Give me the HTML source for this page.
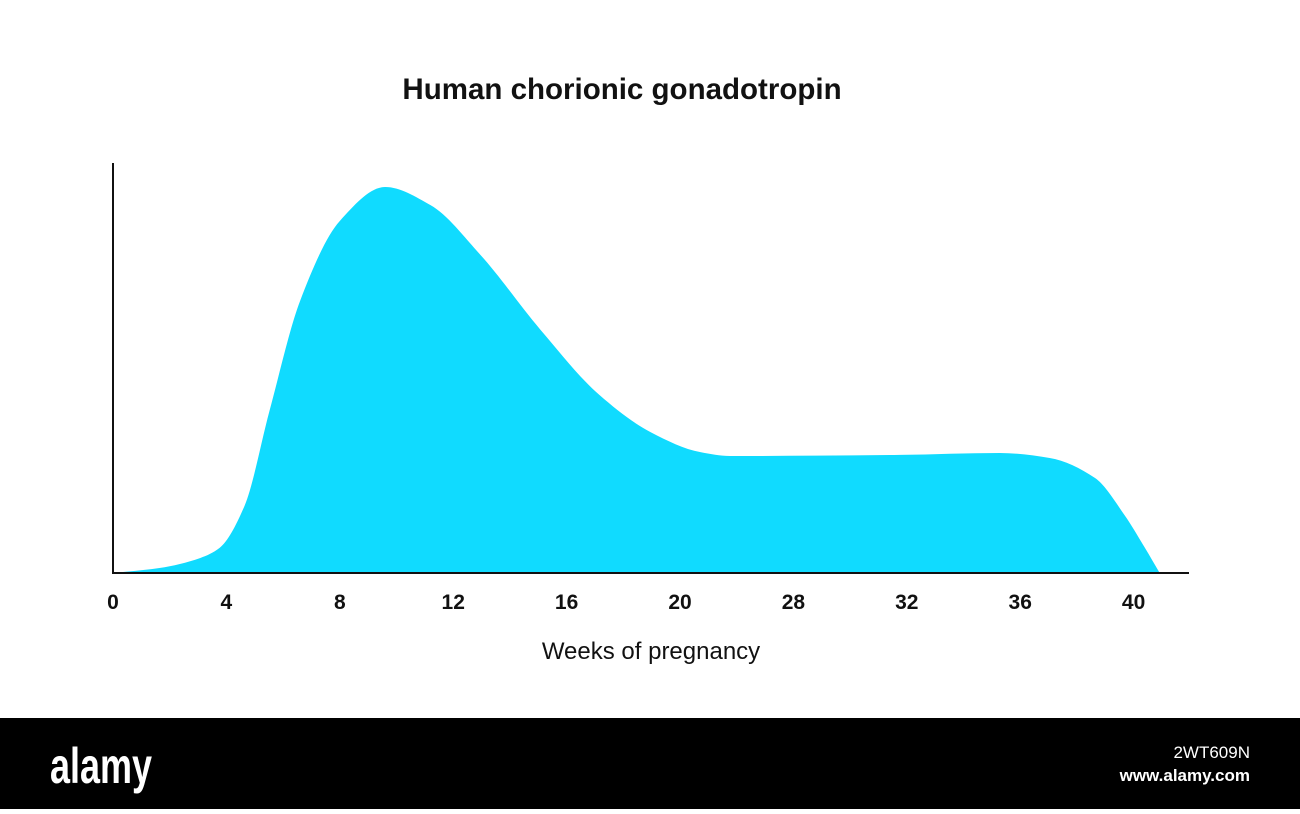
<!DOCTYPE html>
<html><head><meta charset="utf-8"><style>
body{margin:0;width:1300px;height:809px;background:#fff;overflow:hidden;font-family:"Liberation Sans",sans-serif}
</style></head><body>
<svg width="1300" height="809">
<text x="622" y="99" text-anchor="middle" font-size="29.5" font-weight="bold" fill="#111">Human chorionic gonadotropin</text>
<path id="area" fill="#10dbff"/>
<line x1="113" y1="163" x2="113" y2="574" stroke="#111" stroke-width="2"/>
<line x1="112" y1="573" x2="1189" y2="573" stroke="#111" stroke-width="2"/>
<g id="ticks"></g>
<text x="651" y="659" text-anchor="middle" font-size="24" fill="#111">Weeks of pregnancy</text>
<rect x="0" y="718" width="1300" height="91" fill="#000"/>
<text x="50" y="783" font-size="50" font-weight="bold" fill="#fff" textLength="102" lengthAdjust="spacingAndGlyphs">alamy</text>
<text x="1250" y="758" text-anchor="end" font-size="17" fill="#fff">2WT609N</text>
<text x="1250" y="781" text-anchor="end" font-size="17" font-weight="bold" fill="#fff">www.alamy.com</text>
</svg>
<script>
const tickLabels=["0","4","8","12","16","20","28","32","36","40"];
const xPos=[0,0.41,0.77,0.94,1.16,1.38,1.65,2.0,2.4,2.8,3.24,3.77,4.29,4.74,5.18,5.44,6.2,6.94,7.82,8.26,8.66,8.92,9.1,9.23];
const hcgValues=[0,1.3,3.9,6.5,17.4,42,70.5,91.2,100,95.3,82.4,63,46.1,36.5,31.3,30.3,30.4,30.6,31.1,29.8,24.6,15,6.5,0];
const X=i=>113+i*113.4;
const Y=v=>573-v*3.86;
const g=document.getElementById('ticks');
tickLabels.forEach((t,i)=>{
 const el=document.createElementNS('http://www.w3.org/2000/svg','text');
 el.setAttribute('x',X(i));el.setAttribute('y',609);
 el.setAttribute('text-anchor','middle');el.setAttribute('font-size','21');el.setAttribute('font-weight','bold');el.setAttribute('fill','#111');
 
 
 el.textContent=t;g.appendChild(el);
});
// monotone cubic interpolation in pixel space
const px=xPos.map(X), py=hcgValues.map(Y), n=px.length;
const s=[];for(let i=0;i<n-1;i++)s.push((py[i+1]-py[i])/(px[i+1]-px[i]));
const m=[s[0]];
for(let i=1;i<n-1;i++){ if(s[i-1]*s[i]<=0)m.push(0); else { const h0=px[i]-px[i-1],h1=px[i+1]-px[i]; const w1=2*h1+h0,w2=h1+2*h0; m.push((w1+w2)/(w1/s[i-1]+w2/s[i])); } }
m.push(s[n-2]);
let d=`M${px[0]},${py[0]}`;
for(let i=0;i<n-1;i++){const h=(px[i+1]-px[i])/3;
 d+=` C${px[i]+h},${Math.min(py[i]+m[i]*h,573)} ${px[i+1]-h},${Math.min(py[i+1]-m[i+1]*h,573)} ${px[i+1]},${py[i+1]}`;}
d+=' Z';
document.getElementById('area').setAttribute('d',d);
</script>
</body></html>
